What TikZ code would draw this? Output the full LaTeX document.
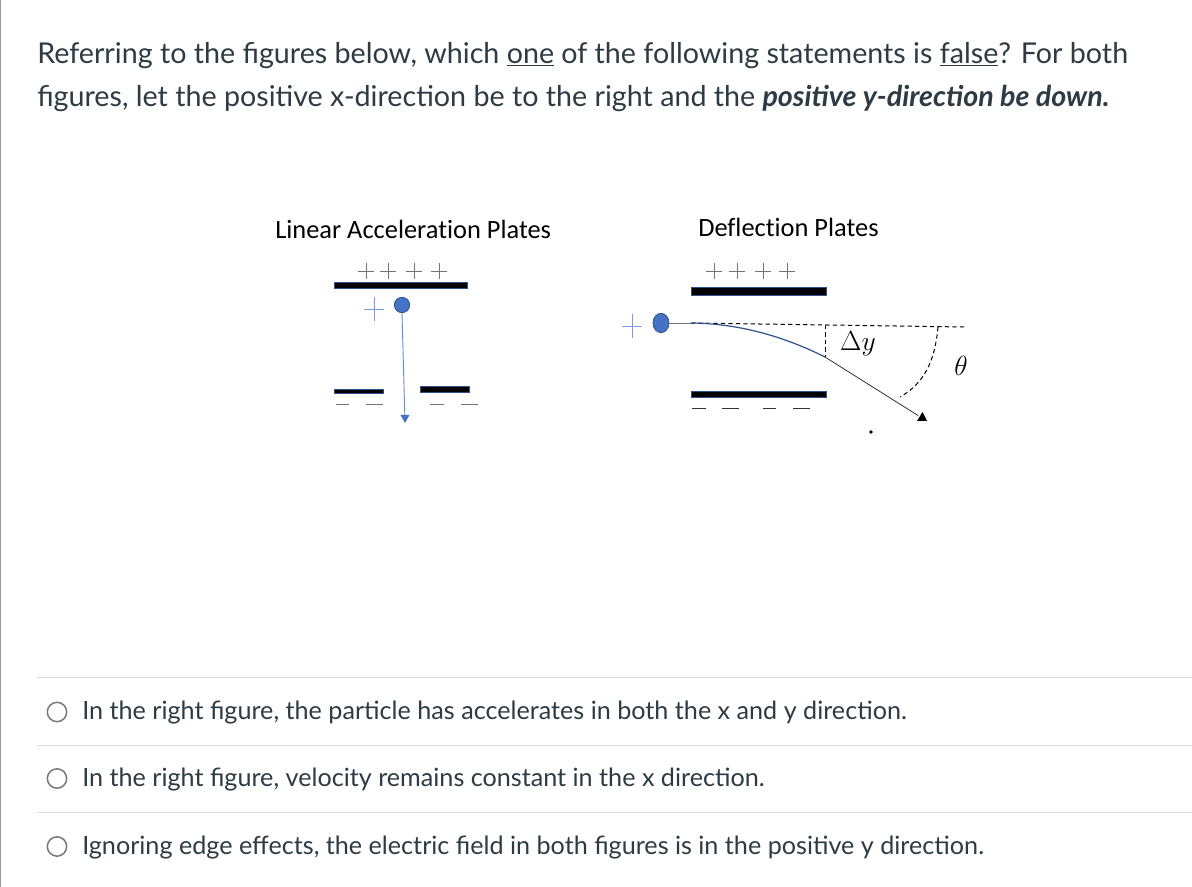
\documentclass[tikz,border=0pt]{standalone}
\usepackage{fontspec}
\usetikzlibrary{shapes.geometric}
\setmainfont{Lato}
\newfontfamily\calib[Ligatures=NoCommon]{Carlito}
\definecolor{canvastext}{HTML}{2D3B45}
\definecolor{plateblue}{HTML}{2F528F}
\definecolor{partblue}{HTML}{4472C4}
\definecolor{sepgray}{HTML}{DDDDDD}
\definecolor{radiogray}{HTML}{757575}
\tikzset{
  qtext/.style={anchor=base west,inner sep=0pt,text=canvastext,font=\fontsize{21.5pt}{25pt}\selectfont},
  atext/.style={anchor=base west,inner sep=0pt,text=canvastext,font=\fontsize{18.87pt}{22pt}\selectfont},
  title/.style={anchor=base west,inner sep=0pt,text=black,font=\calib\fontsize{19.8pt}{22pt}\selectfont},
  plate/.style={draw=plateblue,fill=black,line width=0.7pt},
  charge/.style={draw=black!55,line width=0.6pt},
  bluecharge/.style={draw=partblue!70,line width=0.6pt},
  particle/.style={draw=plateblue,fill=partblue,line width=0.6pt,inner sep=0pt},
  sep/.style={draw=sepgray,line width=0.75pt},
  radio/.style={circle,draw=radiogray,line width=1.1pt,minimum size=14.5pt,inner sep=0pt},
  dashln/.style={draw=black,line width=0.75pt,dash pattern=on 3.2pt off 2.4pt},
  head/.style={fill=black,draw=none}
}
\begin{document}
\begin{tikzpicture}[x=0.75pt,y=-0.75pt]
\useasboundingbox (0,0) rectangle (1192,887);
\fill[white] (0,0) rectangle (1192,887);
\draw[draw=black!40,line width=1.2pt] (0.5,0) -- (0.5,887);

\node[qtext] (q1) at (37,63.5) {Referring to the figures below, which \underline{one} of the following statements is \underline{false}? For both};
\node[qtext] (q2) at (37,106.5) {figures, let the positive x-direction be to the right and the \textbf{\textit{positive y-direction be down.}}};

\node[title] (t1) at (275,239) {Linear Acceleration Plates};
\node[title] (t2) at (698,237) {Deflection Plates};

% left figure
\filldraw[plate] (334.5,282.5) rectangle (467.5,288.5);
\filldraw[plate] (334,389) rectangle (383,393.5);
\filldraw[plate] (420.5,386.5) rectangle (469,392.5);
\foreach \cx in {366,388,414,439} \draw[charge] (\cx-8,271) -- (\cx+8,271) (\cx,263) -- (\cx,279);
\draw[bluecharge] (364,309) -- (384,309) (374,297) -- (374,321);
\foreach \a/\b in {336/349,366/383,430/444,461/478} \draw[charge] (\a,404) -- (\b,404);
\node[particle,circle,minimum size=11.5pt] (p1) at (402,305) {};
\coordinate (p1tip) at (405,423);
\draw[draw=partblue!80,line width=0.7pt] (p1.south) -- (404.8,415);
\fill[partblue] (p1tip) -- (400.5,415) -- (409.5,415) -- cycle;

% right figure
\filldraw[plate] (691.5,287.5) rectangle (826.5,295.5);
\filldraw[plate] (691.5,391) rectangle (826.5,397.5);
\foreach \cx in {714,737,763,787} \draw[charge] (\cx-8,271) -- (\cx+8,271) (\cx,263) -- (\cx,279);
\draw[bluecharge] (622,326) -- (642,326) (632,314) -- (632,338);
\foreach \a/\b in {692/706,722/739,763/776,793/810} \draw[draw=black!80,line width=0.6pt] (\a,408) -- (\b,408);
\node[particle,ellipse,minimum width=12pt,minimum height=14.5pt] (p2) at (661,323) {};
\coordinate (cs) at (691,323);
\coordinate (ce) at (825,357);
\coordinate (dend) at (964,327);
\coordinate (dtop) at (825,325);
\coordinate (atip) at (927,421);
\coordinate (arcs) at (938,327);
\coordinate (arce) at (900,397);
\draw[draw=black!55,line width=0.7pt] (p2.east) -- (cs);
\draw[dashln] (cs) -- (dend);
\draw[dashln] (dtop) -- (ce);
\draw[draw=plateblue,line width=0.9pt] (cs) .. controls (740,323.5) and (785,337) .. (ce);
\draw[draw=black!85,line width=0.55pt] (ce) -- (918,415.5);
\fill[head] (atip) -- (917,421) -- (922.5,412) -- cycle;
\draw[dashln] (arcs) .. controls (935,360) and (925,383) .. (arce);
\fill[black] (871,432) circle (1.9);
\node[inner sep=0pt,font=\fontsize{19.5pt}{22pt}\selectfont] (dy) at (858,344) {$\Delta y$};
\node[inner sep=0pt,font=\fontsize{21pt}{24pt}\selectfont] (th) at (961,366) {$\theta$};

% answers
\draw[sep] (37,677.5) -- (1192,677.5);
\draw[sep] (37,745.5) -- (1192,745.5);
\draw[sep] (37,812.5) -- (1192,812.5);
\node[radio] (r1) at (57,712) {};
\node[radio] (r2) at (57,778.5) {};
\node[radio] (r3) at (57,846.5) {};
\node[atext] (a1) at (82,719) {In the right figure, the particle has accelerates in both the x and y direction.};
\node[atext] (a2) at (82,786) {In the right figure, velocity remains constant in the x direction.};
\node[atext] (a3) at (82,854) {Ignoring edge effects, the electric field in both figures is in the positive y direction.};
\end{tikzpicture}
\end{document}
